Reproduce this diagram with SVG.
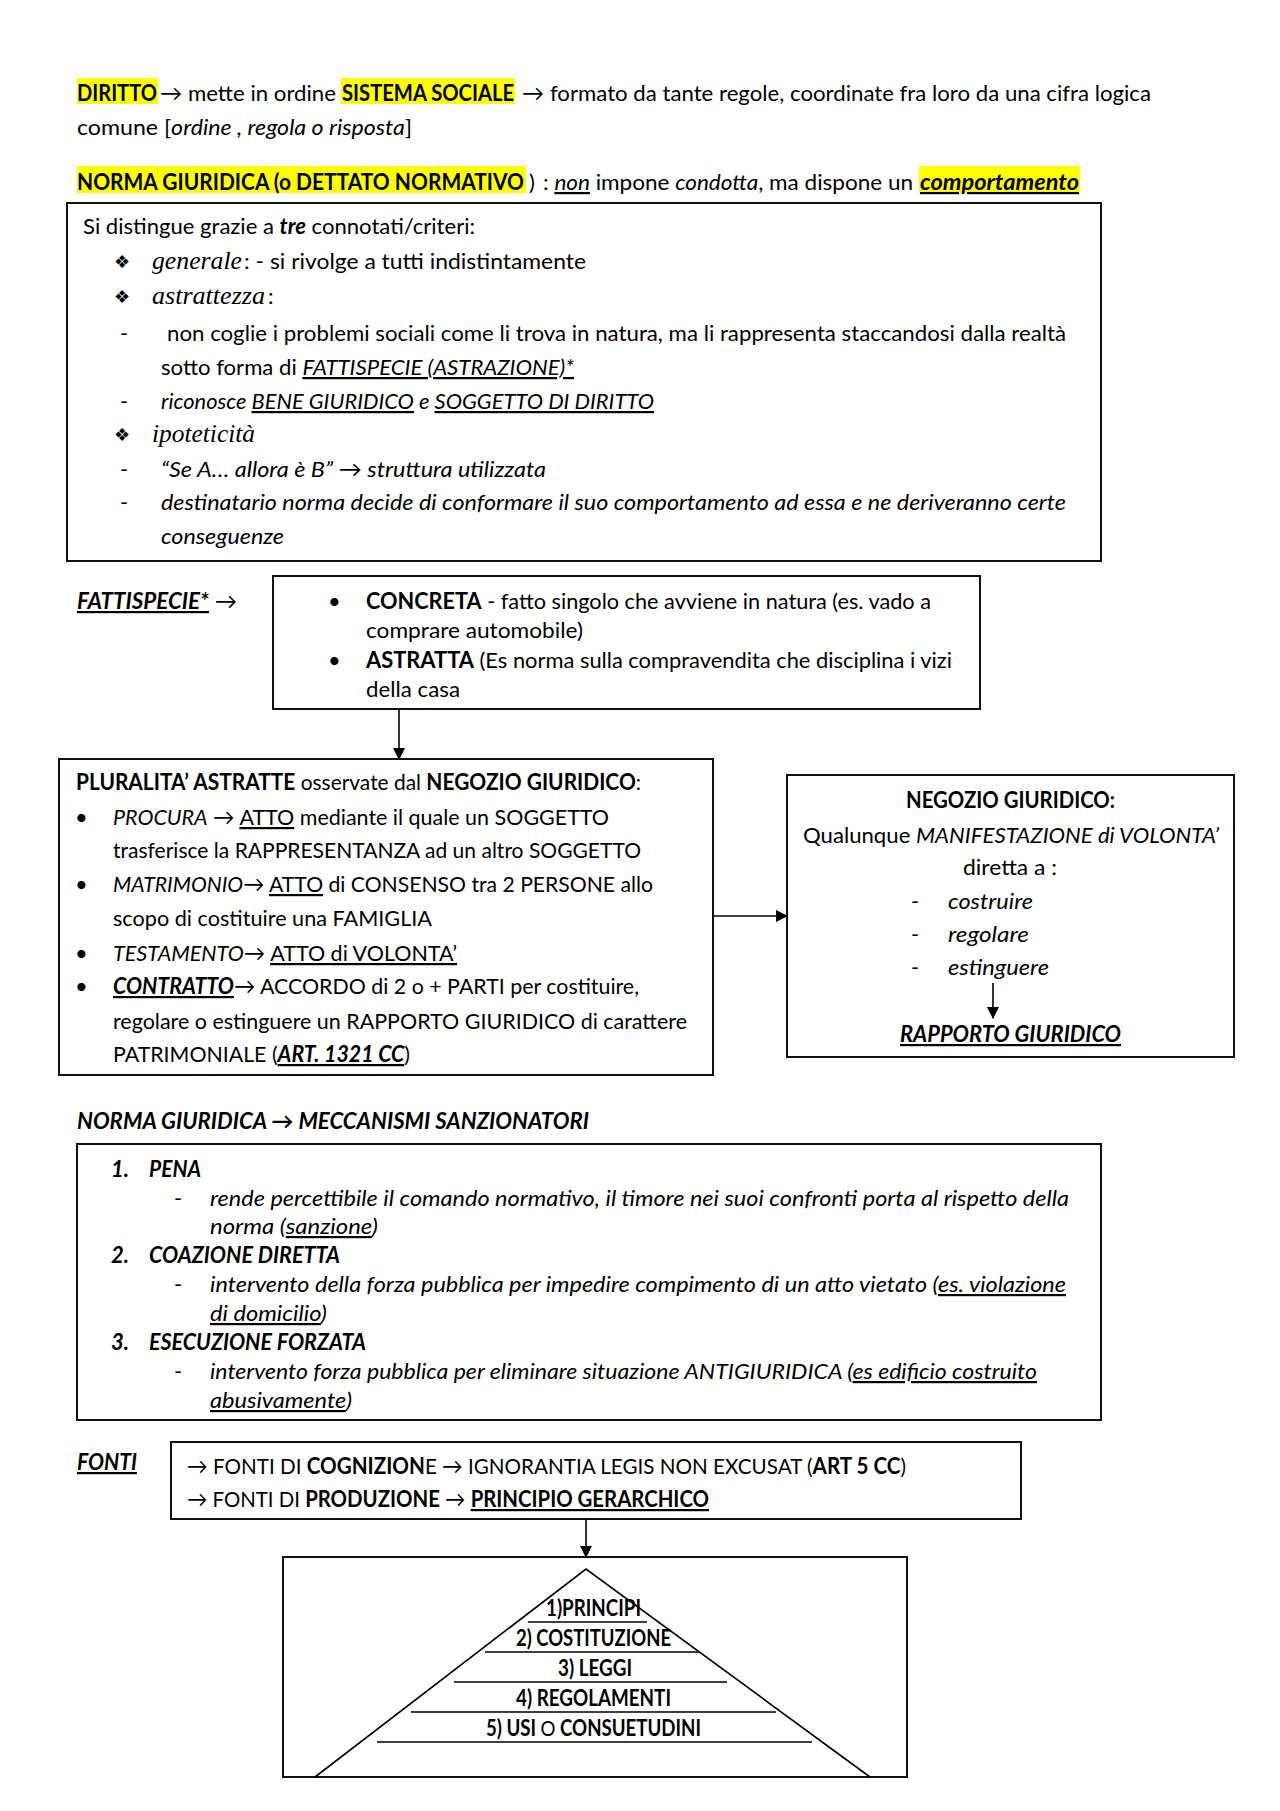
<svg xmlns="http://www.w3.org/2000/svg" width="1280" height="1811" viewBox="0 0 1280 1811">
<style>
text{font-family:Lato,"Liberation Sans",sans-serif;font-size:22px;fill:#000;transform:translate(0px,3px)}
.b{font-weight:bold}
.i{font-style:italic}
.u{text-decoration:underline}
.ser{font-family:"Liberation Serif",serif;font-style:italic;font-size:25px}
.sym{font-family:"DejaVu Sans",sans-serif;font-size:18px}
.hl{fill:#ffff00}
.box{fill:#fff;stroke:#111;stroke-width:2}
.ln{stroke:#000;stroke-width:1.6;fill:none}
</style>
<defs>
<marker id="ah" markerUnits="userSpaceOnUse" markerWidth="12" markerHeight="12" refX="11" refY="6" orient="auto">
<path d="M0,0 L12,6 L0,12 z" fill="#000"/>
</marker>
</defs>
<rect width="1280" height="1811" fill="#fff"/>

<g id="intro">
<rect class="hl" x="77" y="78" width="81" height="26"/>
<rect class="hl" x="341" y="78" width="174" height="26"/>
<text x="77" y="98" class="b" textLength="80" lengthAdjust="spacingAndGlyphs">DIRITTO</text>
<text x="160" y="98" textLength="176" lengthAdjust="spacingAndGlyphs">→ mette in ordine</text>
<text x="342" y="98" class="b" textLength="172" lengthAdjust="spacingAndGlyphs">SISTEMA SOCIALE</text>
<text x="522" y="98" textLength="629" lengthAdjust="spacingAndGlyphs">→ formato da tante regole, coordinate fra loro da una cifra logica</text>
<text x="77" y="132" textLength="335" lengthAdjust="spacingAndGlyphs">comune [<tspan class="i">ordine , regola o risposta</tspan>]</text>

<rect class="hl" x="77" y="166" width="449" height="27"/>
<rect class="hl" x="919" y="166" width="161" height="27"/>
<text x="77" y="187" class="b" textLength="447" lengthAdjust="spacingAndGlyphs">NORMA GIURIDICA (o DETTATO NORMATIVO</text>
<text x="529" y="187">)</text>
<text x="543" y="187" textLength="370" lengthAdjust="spacingAndGlyphs">: <tspan class="i u">non</tspan> impone <tspan class="i">condotta</tspan>, ma dispone un</text>
<text x="920" y="187" class="b i u" textLength="159" lengthAdjust="spacingAndGlyphs">comportamento</text>
</g>

<g id="box-connotati">
<rect class="box" x="67" y="203" width="1034" height="358"/>
<text x="83" y="231" textLength="392" lengthAdjust="spacingAndGlyphs">Si distingue grazie a <tspan class="b i">tre</tspan> connotati/criteri:</text>
<text x="114" y="265" class="sym">❖</text>
<text x="152" y="266" class="ser" textLength="90" lengthAdjust="spacingAndGlyphs">generale</text>
<text x="244" y="266" textLength="342" lengthAdjust="spacingAndGlyphs">: - si rivolge  a tutti indistintamente</text>
<text x="114" y="300" class="sym">❖</text>
<text x="152" y="301" class="ser" textLength="113" lengthAdjust="spacingAndGlyphs">astrattezza</text>
<text x="268" y="301">:</text>
<text x="120" y="338">-</text>
<text x="167" y="338" textLength="899" lengthAdjust="spacingAndGlyphs">non coglie i problemi sociali come li trova in natura, ma li rappresenta staccandosi dalla realtà</text>
<text x="161" y="372" textLength="413" lengthAdjust="spacingAndGlyphs">sotto forma di <tspan class="i u">FATTISPECIE (ASTRAZIONE)*</tspan></text>
<text x="120" y="406">-</text>
<text x="161" y="406" class="i" textLength="493" lengthAdjust="spacingAndGlyphs">riconosce <tspan class="u">BENE GIURIDICO</tspan> e <tspan class="u">SOGGETTO DI DIRITTO</tspan></text>
<text x="114" y="438" class="sym">❖</text>
<text x="152" y="439" class="ser" textLength="103" lengthAdjust="spacingAndGlyphs">ipoteticità</text>
<text x="120" y="474">-</text>
<text x="161" y="474" class="i" textLength="385" lengthAdjust="spacingAndGlyphs">“Se A… allora è B” → struttura utilizzata</text>
<text x="120" y="507">-</text>
<text x="161" y="507" class="i" textLength="905" lengthAdjust="spacingAndGlyphs">destinatario norma decide di conformare il suo comportamento ad essa e ne deriveranno certe</text>
<text x="161" y="541" class="i" textLength="123" lengthAdjust="spacingAndGlyphs">conseguenze</text>
</g>

<g id="label-fattispecie">
<text x="77" y="606" textLength="160" lengthAdjust="spacingAndGlyphs"><tspan class="b i u">FATTISPECIE*</tspan> →</text>
</g>

<g id="box-fattispecie">
<rect class="box" x="273" y="576" width="707" height="133"/>
<text x="328" y="606">•</text>
<text x="366" y="606" textLength="565" lengthAdjust="spacingAndGlyphs"><tspan class="b">CONCRETA</tspan> - fatto singolo che avviene in natura (es. vado a</text>
<text x="366" y="635" textLength="217" lengthAdjust="spacingAndGlyphs">comprare automobile)</text>
<text x="328" y="665">•</text>
<text x="366" y="665" textLength="586" lengthAdjust="spacingAndGlyphs"><tspan class="b">ASTRATTA</tspan> (Es norma sulla compravendita che disciplina i vizi</text>
<text x="366" y="694" textLength="94" lengthAdjust="spacingAndGlyphs">della casa</text>
</g>

<g id="box-pluralita">
<rect class="box" x="59" y="759" width="654" height="316"/>
<text x="76" y="787" textLength="565" lengthAdjust="spacingAndGlyphs"><tspan class="b">PLURALITA’ ASTRATTE</tspan> osservate dal <tspan class="b">NEGOZIO GIURIDICO</tspan>:</text>
<text x="75" y="822">•</text>
<text x="113" y="822" textLength="496" lengthAdjust="spacingAndGlyphs"><tspan class="i">PROCURA</tspan> → <tspan class="u">ATTO</tspan> mediante il quale un SOGGETTO</text>
<text x="113" y="855" textLength="528" lengthAdjust="spacingAndGlyphs">trasferisce la RAPPRESENTANZA ad un altro SOGGETTO</text>
<text x="75" y="889">•</text>
<text x="113" y="889" textLength="540" lengthAdjust="spacingAndGlyphs"><tspan class="i">MATRIMONIO</tspan>→ <tspan class="u">ATTO</tspan> di CONSENSO tra 2 PERSONE allo</text>
<text x="113" y="923" textLength="319" lengthAdjust="spacingAndGlyphs">scopo di costituire una FAMIGLIA</text>
<text x="75" y="958">•</text>
<text x="113" y="958" textLength="344" lengthAdjust="spacingAndGlyphs"><tspan class="i">TESTAMENTO</tspan>→ <tspan class="u">ATTO di VOLONTA’</tspan></text>
<text x="75" y="991">•</text>
<text x="113" y="991" textLength="526" lengthAdjust="spacingAndGlyphs"><tspan class="b i u">CONTRATTO</tspan>→ ACCORDO di 2 o + PARTI per costituire,</text>
<text x="113" y="1026" textLength="574" lengthAdjust="spacingAndGlyphs">regolare o estinguere un RAPPORTO GIURIDICO di carattere</text>
<text x="113" y="1059" textLength="297" lengthAdjust="spacingAndGlyphs">PATRIMONIALE (<tspan class="b i u">ART. 1321 CC</tspan>)</text>
</g>

<g id="box-negozio">
<rect class="box" x="787" y="775" width="447" height="282"/>
<text x="906" y="805" class="b" textLength="209" lengthAdjust="spacingAndGlyphs">NEGOZIO GIURIDICO:</text>
<text x="803" y="840" textLength="416" lengthAdjust="spacingAndGlyphs">Qualunque <tspan class="i">MANIFESTAZIONE di VOLONTA’</tspan></text>
<text x="963" y="872" textLength="94" lengthAdjust="spacingAndGlyphs">diretta a :</text>
<text x="911" y="906">-</text>
<text x="948" y="906" class="i" textLength="85" lengthAdjust="spacingAndGlyphs">costruire</text>
<text x="911" y="939">-</text>
<text x="948" y="939" class="i" textLength="81" lengthAdjust="spacingAndGlyphs">regolare</text>
<text x="911" y="972">-</text>
<text x="948" y="972" class="i" textLength="101" lengthAdjust="spacingAndGlyphs">estinguere</text>
<text x="900" y="1039" class="b i u" textLength="221" lengthAdjust="spacingAndGlyphs">RAPPORTO GIURIDICO</text>
</g>

<g id="label-meccanismi">
<text x="77" y="1126" class="b i" textLength="512" lengthAdjust="spacingAndGlyphs">NORMA GIURIDICA  → MECCANISMI SANZIONATORI</text>
</g>

<g id="box-meccanismi">
<rect class="box" x="77" y="1144" width="1024" height="276"/>
<text x="111" y="1174" class="b i">1.</text>
<text x="149" y="1174" class="b i" textLength="52" lengthAdjust="spacingAndGlyphs">PENA</text>
<text x="174" y="1203">-</text>
<text x="210" y="1203" class="i" textLength="859" lengthAdjust="spacingAndGlyphs">rende percettibile il comando normativo, il timore nei suoi confronti porta al rispetto della</text>
<text x="210" y="1231" class="i" textLength="168" lengthAdjust="spacingAndGlyphs">norma (<tspan class="u">sanzione</tspan>)</text>
<text x="111" y="1260" class="b i">2.</text>
<text x="149" y="1260" class="b i" textLength="191" lengthAdjust="spacingAndGlyphs">COAZIONE DIRETTA</text>
<text x="174" y="1289">-</text>
<text x="210" y="1289" class="i" textLength="856" lengthAdjust="spacingAndGlyphs">intervento della forza pubblica per impedire compimento di un atto vietato (<tspan class="u">es. violazione</tspan></text>
<text x="210" y="1318" class="i" textLength="117" lengthAdjust="spacingAndGlyphs"><tspan class="u">di domicilio</tspan>)</text>
<text x="111" y="1347" class="b i">3.</text>
<text x="149" y="1347" class="b i" textLength="217" lengthAdjust="spacingAndGlyphs">ESECUZIONE FORZATA</text>
<text x="174" y="1376">-</text>
<text x="210" y="1376" class="i" textLength="827" lengthAdjust="spacingAndGlyphs">intervento forza pubblica per eliminare situazione ANTIGIURIDICA (<tspan class="u">es edificio costruito</tspan></text>
<text x="210" y="1405" class="i" textLength="142" lengthAdjust="spacingAndGlyphs"><tspan class="u">abusivamente</tspan>)</text>
</g>

<g id="label-fonti">
<text x="77" y="1467" class="b i u" textLength="60" lengthAdjust="spacingAndGlyphs">FONTI</text>
</g>

<g id="box-fonti">
<rect class="box" x="171" y="1442" width="850" height="77"/>
<text x="187" y="1471" textLength="719" lengthAdjust="spacingAndGlyphs">→ FONTI DI <tspan class="b">COGNIZION</tspan>E  → IGNORANTIA LEGIS NON EXCUSAT (<tspan class="b">ART 5 CC</tspan>)</text>
<text x="187" y="1504" textLength="522" lengthAdjust="spacingAndGlyphs">→ FONTI DI <tspan class="b">PRODUZIONE</tspan> → <tspan class="b u">PRINCIPIO GERARCHICO</tspan></text>
</g>

<g id="box-piramide">
<rect class="box" x="283" y="1557" width="624" height="220"/>
<path class="ln" d="M315,1777 L586,1569 L870,1777"/>
<line class="ln" x1="528" y1="1622" x2="647" y2="1622"/>
<line class="ln" x1="485" y1="1652" x2="699" y2="1652"/>
<line class="ln" x1="454" y1="1682" x2="727" y2="1682"/>
<line class="ln" x1="411" y1="1712" x2="776" y2="1712"/>
<line class="ln" x1="377" y1="1742" x2="812" y2="1742"/>
<text x="546" y="1613" class="b" font-size="20" textLength="95" lengthAdjust="spacingAndGlyphs">1)PRINCIPI</text>
<text x="516" y="1643" class="b" font-size="20" textLength="155" lengthAdjust="spacingAndGlyphs">2) COSTITUZIONE</text>
<text x="558" y="1673" class="b" font-size="20" textLength="74" lengthAdjust="spacingAndGlyphs">3) LEGGI</text>
<text x="516" y="1703" class="b" font-size="20" textLength="155" lengthAdjust="spacingAndGlyphs">4) REGOLAMENTI</text>
<text x="486" y="1733" class="b" font-size="20" textLength="215" lengthAdjust="spacingAndGlyphs">5) USI <tspan font-weight="normal">O</tspan> CONSUETUDINI</text>
</g>

<g id="connectors">
<line class="ln" x1="399" y1="709" x2="399" y2="759" marker-end="url(#ah)"/>
<line class="ln" x1="713" y1="916" x2="787" y2="916" marker-end="url(#ah)"/>
<line class="ln" x1="993" y1="983" x2="993" y2="1018" marker-end="url(#ah)"/>
<line class="ln" x1="586" y1="1519" x2="586" y2="1557" marker-end="url(#ah)"/>
</g>
</svg>
